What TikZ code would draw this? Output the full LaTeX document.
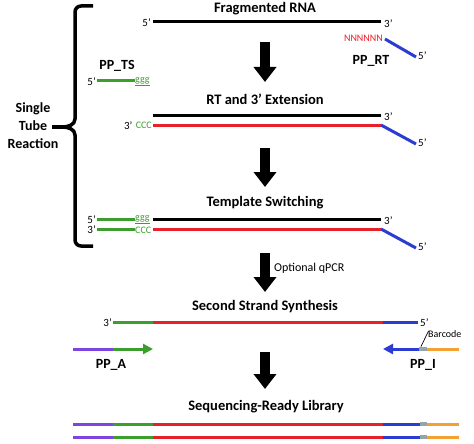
\documentclass[tikz,border=0pt]{standalone}
\usepackage{fontspec}
\setmainfont{Carlito}
\usetikzlibrary{arrows.meta}
\definecolor{cred}{HTML}{E8202A}
\definecolor{cgreen}{HTML}{3C9E2C}
\definecolor{cblue}{HTML}{2A3CD2}
\definecolor{cpurple}{HTML}{7E44E0}
\definecolor{corange}{HTML}{F4A032}
\definecolor{cgray}{HTML}{94A4AC}
\tikzset{
  title/.style={font=\bfseries\fontsize{14.5}{17}\selectfont, inner sep=0pt},
  lbl/.style={font=\bfseries\fontsize{14}{17}\selectfont, inner sep=0pt},
  endlbl/.style={font=\fontsize{11}{13}\selectfont, inner sep=0pt},
  seqlbl/.style={font=\fontsize{10}{12}\selectfont, inner sep=0pt},
  strand/.style={line width=3pt},
  bigarrow/.style={line width=10pt, -{Triangle[width=22pt,length=15pt]}},
}
\begin{document}
\begin{tikzpicture}[x=1pt,y=-1pt]
\useasboundingbox (0,0) rectangle (474,444);

% brace and label
\node[lbl, align=center, font=\bfseries\fontsize{14}{18}\selectfont] (single) at (33,126) {Single\\Tube\\Reaction};
\coordinate (bt) at (93,6);
\coordinate (bb) at (93,246);
\coordinate (btip) at (62,127);
\draw[line width=3.5pt, line join=round] (bt) -- (81,6) to[out=180,in=90] (75,12) -- (75,119) to[out=-90,in=0] (btip) to[out=0,in=90] (75,135) -- (75,240) to[out=-90,in=180] (81,246) -- (bb);
\draw[line width=3.5pt] (52,127) -- (btip);

% Fragmented RNA
\node[title] (t1) at (265,9) {Fragmented RNA};
\coordinate (r1a) at (153,22); \coordinate (r1b) at (381,22);
\draw[strand] (r1a) -- (r1b);
\node[endlbl, anchor=east] (r1l) at ([xshift=-2pt,yshift=-1pt]r1a) {5’};
\node[endlbl, anchor=west] (r1r) at ([xshift=3pt,yshift=-2pt]r1b) {3’};

% PP_RT
\node[seqlbl, text=cred, anchor=east] (nn) at (383,38) {NNNNNN};
\coordinate (rta) at (385,39); \coordinate (rtb) at (416,57);
\draw[strand, cblue] (rta) -- (rtb);
\node[endlbl, anchor=west] (rt5) at ([xshift=2pt,yshift=1pt]rtb) {5’};
\node[lbl] (pprt) at (371,61) {PP\_RT};

% PP_TS
\node[lbl] (ppts) at (117,66) {PP\_TS};
\coordinate (tsa) at (97,81); \coordinate (tsb) at (135,81);
\draw[strand, cgreen] (tsa) -- (tsb);
\node[endlbl, anchor=east] (ts5) at ([xshift=-1pt,yshift=-1pt]tsa) {5’};
\node[seqlbl, text=cgreen, anchor=west] (tsg) at ([xshift=0pt,yshift=-1pt]tsb) {\underline{ggg}};

% arrow 1
\coordinate (a1s) at (265,42); \coordinate (a1e) at (265,82);
\draw[bigarrow] (a1s) -- (a1e);

% RT and 3' Extension
\node[title] (t2) at (265,99) {RT and 3’ Extension};
\coordinate (r2a) at (153,115); \coordinate (r2b) at (381,115);
\draw[strand] (r2a) -- (r2b);
\node[endlbl, anchor=west] (r2r) at ([xshift=3pt,yshift=-2pt]r2b) {3’};
\coordinate (c2a) at (153,125); \coordinate (c2b) at (381,125); \coordinate (c2c) at (416,144);
\draw[strand, cred] (c2a) -- (c2b);
\draw[strand, cblue] (c2b) -- (c2c);
\node[endlbl, anchor=west] (c25) at ([xshift=2pt,yshift=1pt]c2c) {5’};
\node[seqlbl, text=cgreen, anchor=east] (c2ccc) at ([xshift=-1pt]c2a) {CCC};
\node[endlbl, anchor=east] (c23) at ([xshift=-3pt,yshift=-1pt]c2ccc.west) {3’};

% arrow 2
\coordinate (a2s) at (265,148); \coordinate (a2e) at (265,187);
\draw[bigarrow] (a2s) -- (a2e);

% Template Switching
\node[title] (t3) at (265,203) {Template Switching};
\coordinate (r3a) at (153,219); \coordinate (r3b) at (381,219);
\draw[strand] (r3a) -- (r3b);
\node[endlbl, anchor=west] (r3r) at ([xshift=3pt,yshift=-2pt]r3b) {3’};
\coordinate (g3a) at (97,219); \coordinate (g3b) at (135,219);
\draw[strand, cgreen] (g3a) -- (g3b);
\node[seqlbl, text=cgreen, anchor=west] (g3g) at ([yshift=-1pt]g3b) {\underline{ggg}};
\node[endlbl, anchor=east] (g35) at ([xshift=-1pt,yshift=-1pt]g3a) {5’};
\coordinate (c3a) at (153,229); \coordinate (c3b) at (381,229); \coordinate (c3c) at (416,248);
\draw[strand, cred] (c3a) -- (c3b);
\draw[strand, cblue] (c3b) -- (c3c);
\node[endlbl, anchor=west] (c35) at ([xshift=2pt,yshift=1pt]c3c) {5’};
\coordinate (h3a) at (97,229); \coordinate (h3b) at (135,229);
\draw[strand, cgreen] (h3a) -- (h3b);
\node[seqlbl, text=cgreen, anchor=west] (h3c) at ([yshift=-1pt]h3b) {CCC};
\node[endlbl, anchor=east] (h33) at ([xshift=-1pt,yshift=-1pt]h3a) {3’};

% arrow 3
\coordinate (a3s) at (265,253); \coordinate (a3e) at (265,292);
\draw[bigarrow] (a3s) -- (a3e);
\node[font=\fontsize{12}{14}\selectfont, inner sep=0pt, anchor=west] (qpcr) at (274,268) {Optional qPCR};

% Second Strand Synthesis
\node[title] (t4) at (265,307) {Second Strand Synthesis};
\coordinate (s4a) at (113,322); \coordinate (s4b) at (153,322); \coordinate (s4c) at (383,322); \coordinate (s4d) at (418,322);
\draw[strand, cgreen] (s4a) -- (s4b);
\draw[strand, cred] (s4b) -- (s4c);
\draw[strand, cblue] (s4c) -- (s4d);
\node[endlbl, anchor=east] (s43) at ([xshift=-1pt,yshift=-1pt]s4a) {3’};
\node[endlbl, anchor=west] (s45) at ([xshift=2pt,yshift=-1pt]s4d) {5’};

% PP_A
\coordinate (pa1) at (73,349); \coordinate (pa2) at (113,349); \coordinate (pa3) at (153,349);
\draw[strand, cpurple] (pa1) -- (pa2);
\draw[strand, cgreen, -{Triangle[width=10pt,length=10pt]}] (pa2) -- (pa3);
\node[lbl] (ppa) at (111,365) {PP\_A};

% PP_I
\coordinate (pi1) at (383,349); \coordinate (pi2) at (419,349); \coordinate (pi3) at (427,349); \coordinate (pi4) at (459,349);
\draw[strand, cblue, {Triangle[width=10pt,length=10pt]}-] (pi1) -- (pi2);
\draw[line width=4.5pt, cgray] (pi2) -- (pi3);
\draw[strand, corange] (pi3) -- (pi4);
\node[seqlbl, anchor=west] (bc) at (428,334) {Barcode};
\coordinate (bcl) at (421,346.5);
\draw[line width=0.7pt] (bcl) -- ([xshift=0.5pt,yshift=3pt]bc.west);
\node[lbl] (ppi) at (423,365) {PP\_I};

% arrow 4
\coordinate (a4s) at (265,352); \coordinate (a4e) at (265,389);
\draw[bigarrow] (a4s) -- (a4e);

% Sequencing-Ready Library
\node[title] (t5) at (266,407) {Sequencing-Ready Library};
\foreach \yy/\nm in {424/la,437/lb}{
  \coordinate (\nm1) at (73,\yy); \coordinate (\nm2) at (113,\yy); \coordinate (\nm3) at (153,\yy);
  \coordinate (\nm4) at (383,\yy); \coordinate (\nm5) at (420,\yy); \coordinate (\nm6) at (427,\yy); \coordinate (\nm7) at (459,\yy);
  \draw[strand, cpurple] (\nm1) -- (\nm2);
  \draw[strand, cgreen] (\nm2) -- (\nm3);
  \draw[strand, cred] (\nm3) -- (\nm4);
  \draw[strand, cblue] (\nm4) -- (\nm5);
  \draw[line width=4.5pt, cgray] (\nm5) -- (\nm6);
  \draw[strand, corange] (\nm6) -- (\nm7);
}
\end{tikzpicture}
\end{document}
